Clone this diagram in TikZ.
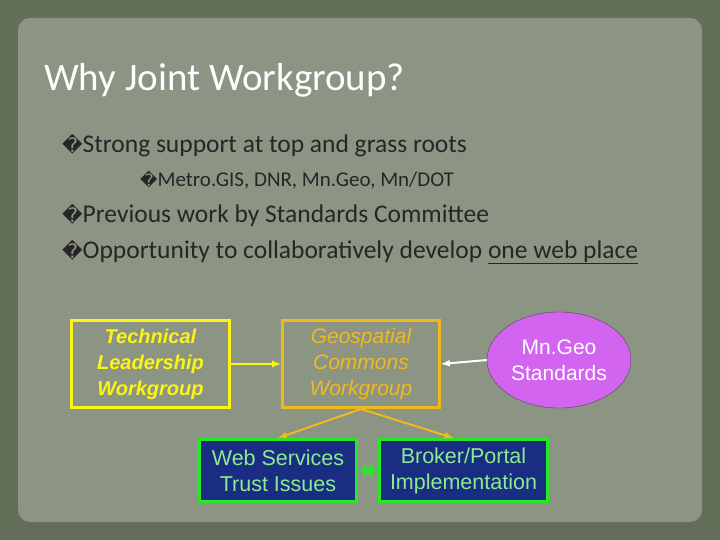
\documentclass[tikz,border=0pt]{standalone}
\usetikzlibrary{shapes.geometric}
\usepackage{fontspec}
\setmainfont{Carlito}
\newfontfamily\arial{Liberation Sans}
\newfontfamily\dv{DejaVu Sans}
\begin{document}
\begin{tikzpicture}[x=1pt,y=-1pt,
  box/.style={draw,line width=3pt,inner sep=0pt,anchor=north west,align=center,font=\arial\fontsize{21.5}{26}\selectfont},
  con/.style={line width=2pt,-latex},
  bul/.style={anchor=west,inner sep=0pt,text=black!85}]
\fill[fill={rgb,255:red,98;green,110;blue,88}] (0,0) rectangle (720,540);
\fill[fill={rgb,255:red,140;green,148;blue,132},rounded corners=12pt] (18,18) rectangle (702,522);
\useasboundingbox (0,0) rectangle (720,540);
\node[anchor=west,inner sep=0pt,text=white,font=\fontsize{39}{44}\selectfont] (t) at (44,80) {Why Joint Workgroup?};
\node[bul,font=\fontsize{25.5}{28}\selectfont] (b1) at (62,146) {{\dv\fontsize{20}{22}\selectfont �}Strong support at top and grass roots};
\node[bul,font=\fontsize{21}{24}\selectfont] (b2) at (140,180) {{\dv\fontsize{17}{18}\selectfont �}Metro.GIS, DNR, Mn.Geo, Mn/DOT};
\node[bul,font=\fontsize{25.5}{28}\selectfont] (b3) at (62,215) {{\dv\fontsize{20}{22}\selectfont �}Previous work by Standards Committee};
\node[bul,font=\fontsize{25.5}{28}\selectfont] (b4) at (62,252) {{\dv\fontsize{20}{22}\selectfont �}Opportunity to collaboratively develop \underline{one web place}};
\node[box,draw={rgb,255:red,250;green,245;blue,20},text={rgb,255:red,250;green,245;blue,20},minimum width=158pt,minimum height=87pt,font=\arial\bfseries\itshape\fontsize{20}{26}\selectfont] (tl) at (70,319) {Technical\\Leadership\\Workgroup};
\node[box,draw={rgb,255:red,240;green,185;blue,30},text={rgb,255:red,240;green,185;blue,30},minimum width=157pt,minimum height=87pt,font=\arial\itshape\fontsize{21}{26}\selectfont] (gc) at (281,319) {Geospatial\\Commons\\Workgroup};
\node[draw=black!70,fill={rgb,255:red,210;green,100;blue,240},ellipse,minimum width=144pt,minimum height=96pt,inner sep=0pt,text=white,align=center,font=\arial\fontsize{21}{26}\selectfont] (mg) at (559,360) {Mn.Geo\\Standards};
\node[box,draw={rgb,255:red,40;green,230;blue,40},fill={rgb,255:red,25;green,45;blue,130},text={rgb,255:red,140;green,235;blue,140},minimum width=157pt,minimum height=62pt] (ws) at (198,438) {Web Services\\Trust Issues};
\node[box,draw={rgb,255:red,40;green,230;blue,40},fill={rgb,255:red,25;green,45;blue,130},text={rgb,255:red,140;green,235;blue,140},minimum width=168pt,minimum height=62pt] (bp) at (378,438) {Broker/Portal\\Implementation};
\draw[con,draw={rgb,255:red,250;green,245;blue,20}] (tl.east) -- (gc.west);
\draw[con,draw=white] (mg.west) -- (gc.east);
\draw[con,draw={rgb,255:red,240;green,185;blue,30}] (gc.south) -- (ws.north);
\draw[con,draw={rgb,255:red,240;green,185;blue,30}] (gc.south) -- ([xshift=-10pt]bp.north);
\draw[line width=4pt,latex-latex,draw={rgb,255:red,40;green,230;blue,40}] (ws.east) -- (bp.west);
\end{tikzpicture}
\end{document}
